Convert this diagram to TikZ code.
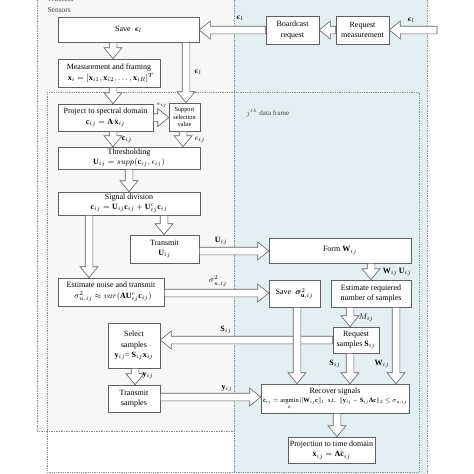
\documentclass[tikz,border=0pt]{standalone}
\usepackage{fontspec}
\setmainfont{Liberation Serif}
\usepackage{amsmath,bm,graphicx}
\usetikzlibrary{calc}
\definecolor{hubblue}{RGB}{228,239,242}
\definecolor{sensgray}{RGB}{247,247,247}
\definecolor{edge}{RGB}{95,95,95}
\definecolor{regline}{RGB}{140,140,140}
\newcommand\harr[2]{%
  \coordinate (ha) at #1; \coordinate (hb) at #2;
  \coordinate (hh) at ($(hb)!11pt!(ha)$);
  \draw[harrow] ($(ha)!3.8pt!90:(hb)$) -- ($(hh)!3.8pt!90:(hb)$) -- ($(hh)!9pt!90:(hb)$) -- (hb)
    -- ($(hh)!9pt!-90:(hb)$) -- ($(hh)!3.8pt!-90:(hb)$) -- ($(ha)!3.8pt!-90:(hb)$) -- cycle;}
\begin{document}
\begin{tikzpicture}[x=1pt,y=-1pt,
  box/.style={draw=edge, fill=white, line width=0.6pt, align=center, inner sep=0.5pt,
    font=\fontsize{8}{10.5}\selectfont},
  tight/.style={font=\fontsize{8}{9.6}\selectfont},
  harrow/.style={draw=edge, fill=white, line width=0.6pt, line join=miter},
  lab/.style={font=\fontsize{8}{9}\selectfont, inner sep=0pt},
  region/.style={draw=regline, line width=0.6pt, dash pattern=on 1.5pt off 1pt}]
\useasboundingbox (0,0) rectangle (474,474);
% regions
\fill[sensgray] (37,-5) rectangle (234,431);
\fill[hubblue] (234,-5) rectangle (427,480);
\draw[region] (37,-5) -- (37,431) -- (234,431);
\draw[region] (234,-5) -- (234,472);
\draw[region] (427,-5) -- (427,480);
\draw[region, dash pattern=on 1pt off 0.8pt] (47,92) rectangle (419,472);
\node[anchor=west, font=\fontsize{7.5}{9}\selectfont, text=black!75] (tw) at (44,-1) {Wireless};
\node[anchor=west, font=\fontsize{7.5}{9}\selectfont, text=black!75] (ts2) at (44,10) {Sensors};
\node[anchor=west, font=\fontsize{7}{9}\selectfont, text=black!75] (tj) at (243,113) {$j^{th}$ data frame};
% boxes
\node[box, minimum width=141pt, minimum height=25pt] (save) at (128.5,29.5) {Save \ $\bm{\epsilon}_{l}$};
\node[box, minimum width=102pt, minimum height=28pt] (meas) at (109,73) {Measurement and framing\\ \ \ $\mathbf{x}_i=[\mathbf{x}_{i1},\mathbf{x}_{i2},\ldots,\mathbf{x}_{iR}]^T$};
\node[box, minimum width=95pt, minimum height=27pt] (proj) at (105.5,117.5) {Project to spectral domain\\ $\mathbf{c}_{ij}=\mathbf{A}\,\hat{\mathbf{x}}_{ij}$};
\node[box, minimum width=31pt, minimum height=28pt, font=\fontsize{6.3}{7.8}\selectfont] (supp) at (184.5,117) {Support\\selection\\value};
\node[box, tight, minimum width=142pt, minimum height=22pt] (thr) at (129,158) {Thresholding\\ $\mathbf{U}_{ij}=supp(\mathbf{c}_{ij},\epsilon_{ij})$};
\node[box, tight, minimum width=142pt, minimum height=23pt] (sig) at (129,203.5) {Signal division\\ $\mathbf{c}_{ij}=\mathbf{U}_{ij}\mathbf{c}_{ij}+\mathbf{U}^{c}_{ij}\mathbf{c}_{ij}$};
\node[box, minimum width=69pt, minimum height=28pt] (tu) at (164.5,249) {Transmit\\ $\mathbf{U}_{ij}$};
\node[box, minimum width=106pt, minimum height=28pt] (est) at (111,292) {Estimate noise and transmit\\ \ \ $\sigma^2_{u,ij}\approx var(\mathbf{A}\mathbf{U}^{c}_{ij}\mathbf{c}_{ij})$};
\node[box, minimum width=52pt, minimum height=45pt] (sel) at (134,345.5) {Select\\samples\\ $\mathbf{y}_{ij}$= $\mathbf{S}_{ij}\mathbf{x}_{ij}$};
\node[box, minimum width=52pt, minimum height=27pt] (tsm) at (134,398.5) {Transmit\\samples};
\node[box, minimum width=53pt, minimum height=28pt] (bc) at (292.5,30) {Boardcast\\request};
\node[box, minimum width=53pt, minimum height=28pt] (rm) at (362.5,30) {Request\\measurement};
\node[box, minimum width=142pt, minimum height=25pt] (fw) at (340,250.5) {Form $\mathbf{W}_{ij}$};
\node[box, minimum width=51pt, minimum height=27pt] (ssig) at (294.5,293.5) {Save \ $\bm{\sigma}^{2}_{\mathbf{u},ij}$};
\node[box, minimum width=80pt, minimum height=27pt] (ers) at (371,293.5) {Estimate requiered\\number of samples};
\node[box, minimum width=46pt, minimum height=26pt] (rq) at (356,340) {Request\\samples $\mathbf{S}_{ij}$};
\node[box, tight, minimum width=148pt, minimum height=29pt] (rec) at (335,398.5) {Recover signals\\ \resizebox{144pt}{!}{$\hat{\mathbf{c}}_{ij}=\mathop{\mathrm{argmin}}\limits_{\mathbf{c}}\|\mathbf{W}_{ij}\mathbf{c}\|_1$ \ s.t. \ $\|\mathbf{y}_{ij}-\mathbf{S}_{ij}\mathbf{A}\mathbf{c}\|_2\le\sigma_{u,ij}$}};
\node[box, minimum width=87pt, minimum height=26pt] (pt) at (331.5,450) {Projection to time domain\\ $\hat{\mathbf{x}}_{ij}=\mathbf{A}\hat{\mathbf{c}}_{ij}$};
% connectors
\coordinate (in) at (437,30);
\harr{(in)}{(rm.east)}
\harr{(rm.west)}{(bc.east)}
\harr{(bc.west)}{(save.east |- bc.west)}
\harr{(113,0 |- save.south)}{(113,0 |- meas.north)}
\harr{(186,0 |- save.south)}{(186,0 |- supp.north)}
\harr{(113,0 |- meas.south)}{(113,0 |- proj.north)}
\harr{(proj.east)}{(supp.west |- proj.east)}
\harr{(113,0 |- proj.south)}{(113,0 |- thr.north)}
\harr{(183,0 |- supp.south)}{(183,0 |- thr.north)}
\harr{(129,0 |- thr.south)}{(129,0 |- sig.north)}
\harr{(89,0 |- sig.south)}{(89,0 |- est.north)}
\harr{(164,0 |- sig.south)}{(164,0 |- tu.north)}
\harr{(tu.east |- 0,251)}{(fw.west |- 0,251)}
\harr{(est.east |- 0,293)}{(ssig.west |- 0,293)}
\harr{(371,0 |- fw.south)}{(371,0 |- ers.north)}
\harr{(350,0 |- ers.south)}{(350,0 |- rq.north)}
\harr{(rq.west)}{(sel.east |- rq.west)}
\harr{(tsm.east |- 0,397)}{(rec.west |- 0,397)}
\harr{(135,0 |- sel.south)}{(135,0 |- tsm.north)}
\harr{(297,0 |- ssig.south)}{(297,0 |- rec.north)}
\harr{(350,0 |- rq.south)}{(350,0 |- rec.north)}
\harr{(396,0 |- ers.south)}{(396,0 |- rec.north)}
\harr{(337,0 |- rec.south)}{(337,0 |- pt.north)}
% labels
\node[lab] (l1) at (411,20) {$\bm{\epsilon}_{l}$};
\node[lab] (l2) at (240,18) {$\bm{\epsilon}_{l}$};
\node[lab] (l3) at (198,72) {$\bm{\epsilon}_{l}$};
\node[lab, font=\fontsize{6}{7}\selectfont] (l4) at (162,105) {$\epsilon_{ij}$};
\node[lab] (l5) at (127,140) {$\mathbf{c}_{ij}$};
\node[lab] (l6) at (200,140) {$\epsilon_{ij}$};
\node[lab] (l7) at (221,241) {$\mathbf{U}_{ij}$};
\node[lab] (l8) at (218,281) {$\sigma^2_{u,ij}$};
\node[lab] (l9) at (226,330) {$\mathbf{S}_{ij}$};
\node[lab] (l10) at (227,389) {$\mathbf{y}_{ij}$};
\node[lab] (l11) at (148,376) {$\mathbf{y}_{ij}$};
\node[lab] (l12) at (397,272) {$\mathbf{W}_{ij}\,\mathbf{U}_{ij}$};
\node[lab] (l13) at (366,318) {$M_{ij}$};
\node[lab] (l14) at (335,364) {$\mathbf{S}_{ij}$};
\node[lab] (l15) at (382,364) {$\mathbf{W}_{ij}$};
\end{tikzpicture}
\end{document}
